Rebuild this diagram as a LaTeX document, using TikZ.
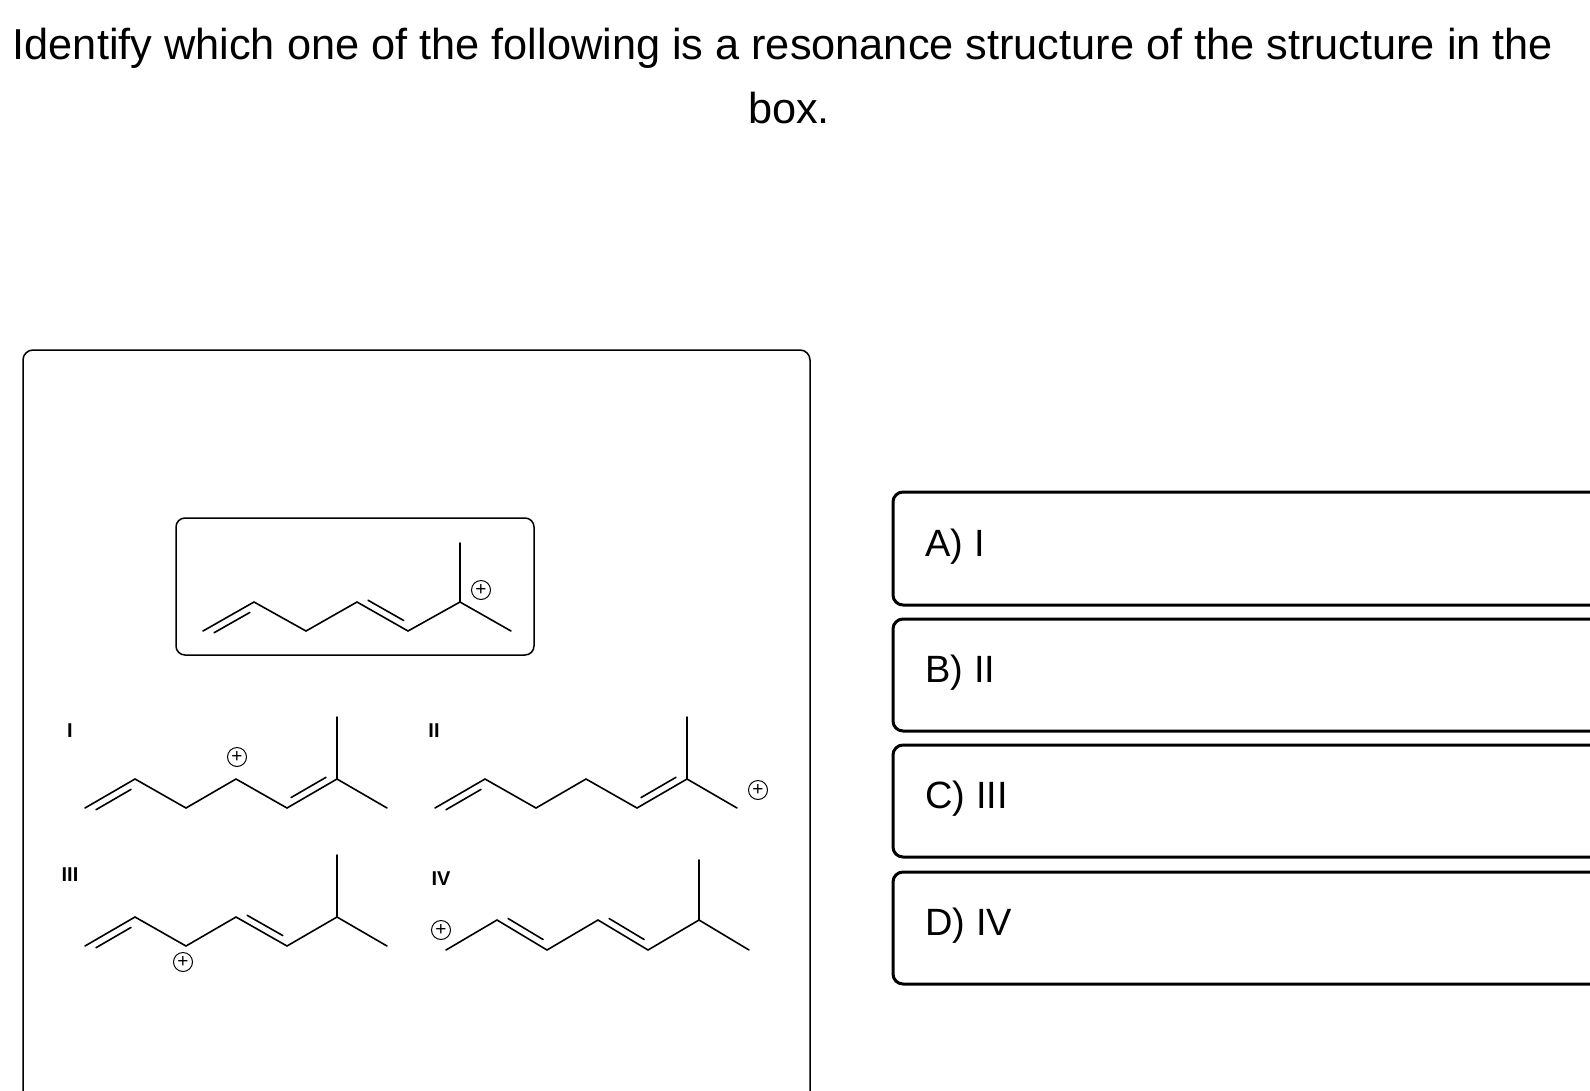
\documentclass[tikz,border=0pt]{standalone}
\usepackage{fontspec}
\setmainfont{Liberation Sans}
\usetikzlibrary{calc}
\tikzset{bond/.style={line width=1.6pt,line cap=round},
 pluscirc/.style={circle,draw,line width=1pt,minimum size=19pt,inner sep=0pt,font=\fontsize{19}{19}\selectfont},
 lbl/.style={font=\bfseries\fontsize{20}{20}\selectfont},
 ans/.style={draw,line width=3pt,rounded corners=10pt},
 anstext/.style={anchor=west,font=\fontsize{38}{38}\selectfont}}
\newcommand\dbl[4]{\draw[bond] (#1)--(#2); \draw[bond] ($(#1)!0.15!(#2)!7pt!#3:(#2)$) -- ($(#2)!0.15!(#1)!7pt!#4:(#1)$);}
\newcommand\sgl[2]{\draw[bond] (#1)--(#2);}
\begin{document}
\begin{tikzpicture}[x=1pt,y=-1pt]
\useasboundingbox (0,0) rectangle (1590,1090);
\node[font=\fontsize{43.3}{44}\selectfont] (t1) at (783,48) {Identify which one of the following is a resonance structure of the structure in the};
\node[font=\fontsize{43.3}{44}\selectfont] (t2) at (789,108) {box.};
\draw[line width=1.5pt,rounded corners=10pt] (23,1100) -- (23,350) -- (810,350) -- (810,1100);
% boxed structure
\draw[line width=1.5pt,rounded corners=9pt] (176,518) rectangle (534,655);
\foreach \n/\x/\y in {1/203/631,2/254/602,3/306/631,4/357/602,5/408/631,6/460/602,7/460/543,8/511/631}
  \coordinate (b\n) at (\x,\y);
\dbl{b1}{b2}{-90}{90}\sgl{b2}{b3}\sgl{b3}{b4}\dbl{b4}{b5}{90}{-90}\sgl{b5}{b6}\sgl{b6}{b7}\sgl{b6}{b8}
\node[pluscirc] (pb) at (481,590) {+};
% I
\node[lbl] (l1) at (70,731) {I};
\foreach \n/\x/\y in {1/85/808,2/135/779,3/186/808,4/236/779,5/287/808,6/337/779,7/337/717,8/387/808}
  \coordinate (i\n) at (\x,\y);
\dbl{i1}{i2}{-90}{90}\sgl{i2}{i3}\sgl{i3}{i4}\sgl{i4}{i5}\dbl{i5}{i6}{90}{-90}\sgl{i6}{i7}\sgl{i6}{i8}
\node[pluscirc] (p1) at (237,757) {+};
% II
\node[lbl] (l2) at (434,731) {II};
\foreach \n/\x/\y in {1/435/808,2/485/779,3/536/808,4/586/779,5/637/808,6/687/779,7/687/717,8/737/808}
  \coordinate (j\n) at (\x,\y);
\dbl{j1}{j2}{-90}{90}\sgl{j2}{j3}\sgl{j3}{j4}\sgl{j4}{j5}\dbl{j5}{j6}{90}{-90}\sgl{j6}{j7}\sgl{j6}{j8}
\node[pluscirc] (p2) at (758,790) {+};
% III
\node[lbl] (l3) at (70,875) {III};
\foreach \n/\x/\y in {1/85/946,2/135/917,3/186/946,4/236/917,5/287/946,6/337/917,7/337/855,8/387/946}
  \coordinate (k\n) at (\x,\y);
\dbl{k1}{k2}{-90}{90}\sgl{k2}{k3}\sgl{k3}{k4}\dbl{k4}{k5}{90}{-90}\sgl{k5}{k6}\sgl{k6}{k7}\sgl{k6}{k8}
\node[pluscirc] (p3) at (183,962) {+};
% IV
\node[lbl] (l4) at (441,879) {IV};
\foreach \n/\x/\y in {1/446/950,2/497/920,3/547/950,4/598/920,5/648/950,6/699/920,7/699/860,8/749/950}
  \coordinate (m\n) at (\x,\y);
\sgl{m1}{m2}\dbl{m2}{m3}{90}{-90}\sgl{m3}{m4}\dbl{m4}{m5}{90}{-90}\sgl{m5}{m6}\sgl{m6}{m7}\sgl{m6}{m8}
\node[pluscirc] (p4) at (441,930) {+};
% answers
\foreach \k/\ya/\yb/\t in {a/492/605/{A) I},b/619/731/{B) II},c/745/857/{C) III},d/872/984/{D) IV}}{
  \draw[ans] (1600,\ya) -- (893,\ya) -- (893,\yb) -- (1600,\yb);
  \node[anstext] (ans\k) at (922,{(\ya+\yb)/2-2}) {\t};
}
\end{tikzpicture}
\end{document}
